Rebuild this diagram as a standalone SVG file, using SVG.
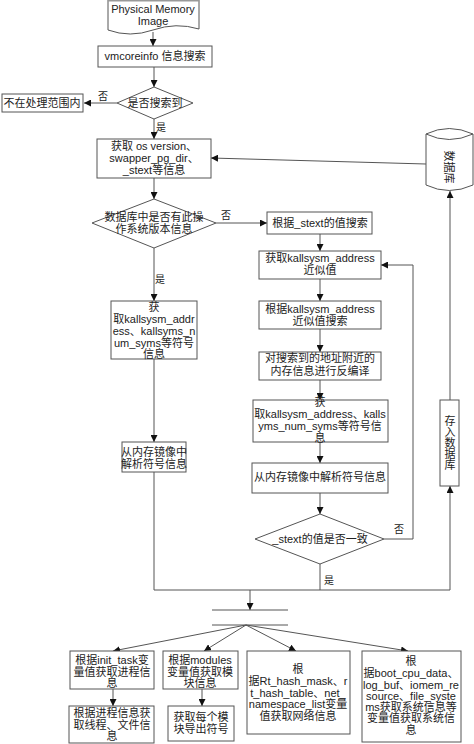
<svg xmlns="http://www.w3.org/2000/svg" width="474" height="744" viewBox="0 0 474 744">
<defs>
<marker id="ah" viewBox="0 0 10 10" refX="10" refY="5" markerWidth="7" markerHeight="7" markerUnits="userSpaceOnUse" orient="auto">
<path d="M0,0 L10,5 L0,10 Z" fill="#111"/>
</marker>
</defs>
<style>
.b{fill:#fff;stroke:#555;stroke-width:1}
.c{fill:none;stroke:#555;stroke-width:1}
.a{fill:none;stroke:#555;stroke-width:1;marker-end:url(#ah)}
text{font-family:"Liberation Sans","Noto Sans CJK SC",sans-serif;font-size:11px;fill:#222;text-anchor:middle}
.s{font-size:10px}
</style>
<rect width="474" height="744" fill="#fff"/>

<g id="connectors">
<line class="a" x1="153" y1="32" x2="153" y2="46"/>
<line class="a" x1="154" y1="67" x2="154" y2="87"/>
<line class="a" x1="117" y1="103" x2="84" y2="103"/>
<line class="a" x1="154" y1="119" x2="154" y2="139"/>
<line class="a" x1="154" y1="178" x2="154" y2="199"/>
<line class="a" x1="216" y1="223" x2="267" y2="223"/>
<line class="a" x1="154" y1="248" x2="154" y2="301"/>
<line class="a" x1="154" y1="359" x2="154" y2="442"/>
<polyline class="c" points="154,472 154,590 450,590"/>
<line class="a" x1="320" y1="234" x2="320" y2="251"/>
<line class="a" x1="320" y1="279" x2="320" y2="301"/>
<line class="a" x1="320" y1="329" x2="320" y2="352"/>
<line class="a" x1="320" y1="380" x2="320" y2="400"/>
<line class="a" x1="320" y1="442" x2="320" y2="463"/>
<line class="a" x1="320" y1="493" x2="320" y2="514"/>
<line class="c" x1="320" y1="564" x2="320" y2="590"/>
<polyline class="a" points="384,539 413,539 413,265 381,265"/>
<polyline class="a" points="450,590 450,486"/>
<line class="a" x1="450" y1="400" x2="450" y2="191"/>
<line class="a" x1="426" y1="164" x2="211" y2="158"/>
<line class="a" x1="250" y1="590" x2="250" y2="610"/>
<line class="c" x1="212" y1="610" x2="288" y2="610"/>
<line class="c" x1="212" y1="625" x2="288" y2="625"/>
<line class="a" x1="246" y1="625" x2="113" y2="651"/>
<line class="a" x1="246" y1="625" x2="204" y2="651"/>
<line class="a" x1="246" y1="625" x2="296" y2="651"/>
<line class="a" x1="246" y1="625" x2="408" y2="651"/>
<line class="a" x1="113" y1="689" x2="113" y2="706"/>
<line class="a" x1="202" y1="689" x2="202" y2="706"/>
<text x="103" y="100" class="s">否</text>
<text x="161" y="131" class="s">是</text>
<text x="226" y="219" class="s">否</text>
<text x="160" y="283" class="s">是</text>
<text x="399" y="533" class="s">否</text>
<text x="329" y="584" class="s">是</text>
</g>

<g id="n-image">
<path class="b" d="M108,0 L199,0 L199,29 Q176,22 153,30 Q130,38 108,30 Z"/>
<line x1="108" y1="0.5" x2="199" y2="0.5" stroke="#999" stroke-width="2"/>
<text x="153" y="13">Physical Memory</text>
<text x="153" y="25">Image</text>
</g>

<g id="n-vmcore">
<rect class="b" x="98" y="46" width="114" height="21"/>
<text x="155" y="60">vmcoreinfo 信息搜索</text>
</g>

<g id="n-found">
<polygon class="b" points="154,87 193,103 154,119 117,103"/>
<text x="155" y="107">是否搜索到</text>
</g>

<g id="n-outofscope">
<rect class="b" x="2" y="94" width="81" height="18"/>
<text x="42" y="107">不在处理范围内</text>
</g>

<g id="n-osinfo">
<rect class="b" x="97" y="139" width="114" height="39"/>
<text x="154" y="150">获取 os version、</text>
<text x="154" y="162">swapper_pg_dir、</text>
<text x="154" y="174">_stext等信息</text>
</g>

<g id="n-dbcheck">
<polygon class="b" points="154,199 216,223 154,248 92,223"/>
<text x="154" y="221">数据库中是否有此操</text>
<text x="154" y="233">作系统版本信息</text>
</g>

<g id="n-getsyms-left">
<rect class="b" x="111" y="301" width="86" height="58"/>
<text x="154" y="311">获</text>
<text x="154" y="323">取kallsysm_addr</text>
<text x="154" y="335">ess、kallsyms_n</text>
<text x="154" y="347">um_syms等符号</text>
<text x="154" y="358">信息</text>
</g>

<g id="n-parse-left">
<rect class="b" x="122" y="442" width="64" height="30"/>
<text x="154" y="456">从内存镜像中</text>
<text x="154" y="468">解析符号信息</text>
</g>

<g id="n-stextsearch">
<rect class="b" x="267" y="212" width="105" height="22"/>
<text x="320" y="227">根据_stext的值搜索</text>
</g>

<g id="n-approx">
<rect class="b" x="259" y="251" width="122" height="28"/>
<text x="320" y="262">获取kallsysm_address</text>
<text x="320" y="274">近似值</text>
</g>

<g id="n-approxsearch">
<rect class="b" x="259" y="301" width="122" height="28"/>
<text x="320" y="313">根据kallsysm_address</text>
<text x="320" y="325">近似值搜索</text>
</g>

<g id="n-disasm">
<rect class="b" x="259" y="352" width="122" height="28"/>
<text x="320" y="362">对搜索到的地址附近的</text>
<text x="320" y="375">内存信息进行反编译</text>
</g>

<g id="n-getsyms-right">
<rect class="b" x="253" y="400" width="135" height="42"/>
<text x="320" y="406">获</text>
<text x="320" y="418">取kallsysm_address、kalls</text>
<text x="320" y="430">yms_num_syms等符号信</text>
<text x="320" y="442">息</text>
</g>

<g id="n-parse-right">
<rect class="b" x="252" y="463" width="136" height="30"/>
<text x="320" y="481">从内存镜像中解析符号信息</text>
</g>

<g id="n-stextcheck">
<polygon class="b" points="320,514 384,539 320,564 255,539"/>
<text x="320" y="543">_stext的值是否一致</text>
</g>

<g id="n-store">
<rect class="b" x="440" y="400" width="19" height="86"/>
<text x="450" y="425">存</text>
<text x="450" y="436">入</text>
<text x="450" y="447">数</text>
<text x="450" y="458">据</text>
<text x="450" y="469">库</text>
</g>

<g id="n-db">
<path class="b" d="M426,134 Q449,123 473,134 L473,185 Q449,196 426,185 Z"/>
<path class="c" d="M426,134 Q449,145 473,134"/>
<text x="0" y="0" transform="translate(445,167) rotate(90)">数据库</text>
</g>

<g id="n-proc">
<rect class="b" x="70" y="651" width="84" height="38"/>
<text x="112" y="664">根据init_task变</text>
<text x="112" y="676">量值获取进程信</text>
<text x="112" y="687">息</text>
</g>

<g id="n-mod">
<rect class="b" x="163" y="651" width="75" height="38"/>
<text x="200" y="664">根据modules</text>
<text x="200" y="676">变量值获取模</text>
<text x="200" y="687">块信息</text>
</g>

<g id="n-net">
<rect class="b" x="247" y="651" width="103" height="83"/>
<text x="298" y="673">根</text>
<text x="298" y="685">据Rt_hash_mask、r</text>
<text x="298" y="697">t_hash_table、net_</text>
<text x="298" y="708">namespace_list变量</text>
<text x="298" y="720">值获取网络信息</text>
</g>

<g id="n-sys">
<rect class="b" x="362" y="651" width="99" height="91"/>
<text x="411" y="665">根</text>
<text x="411" y="677">据boot_cpu_data、</text>
<text x="411" y="689">log_buf、iomem_re</text>
<text x="411" y="700">source、file_syste</text>
<text x="411" y="711">ms获取系统信息等</text>
<text x="411" y="722">变量值获取系统信</text>
<text x="411" y="734">息</text>
</g>

<g id="n-thread">
<rect class="b" x="69" y="706" width="85" height="37"/>
<text x="112" y="717">根据进程信息获</text>
<text x="112" y="729">取线程、文件信</text>
<text x="112" y="740">息</text>
</g>

<g id="n-modsyms">
<rect class="b" x="168" y="706" width="66" height="35"/>
<text x="201" y="721">获取每个模</text>
<text x="201" y="733">块导出符号</text>
</g>
</svg>
